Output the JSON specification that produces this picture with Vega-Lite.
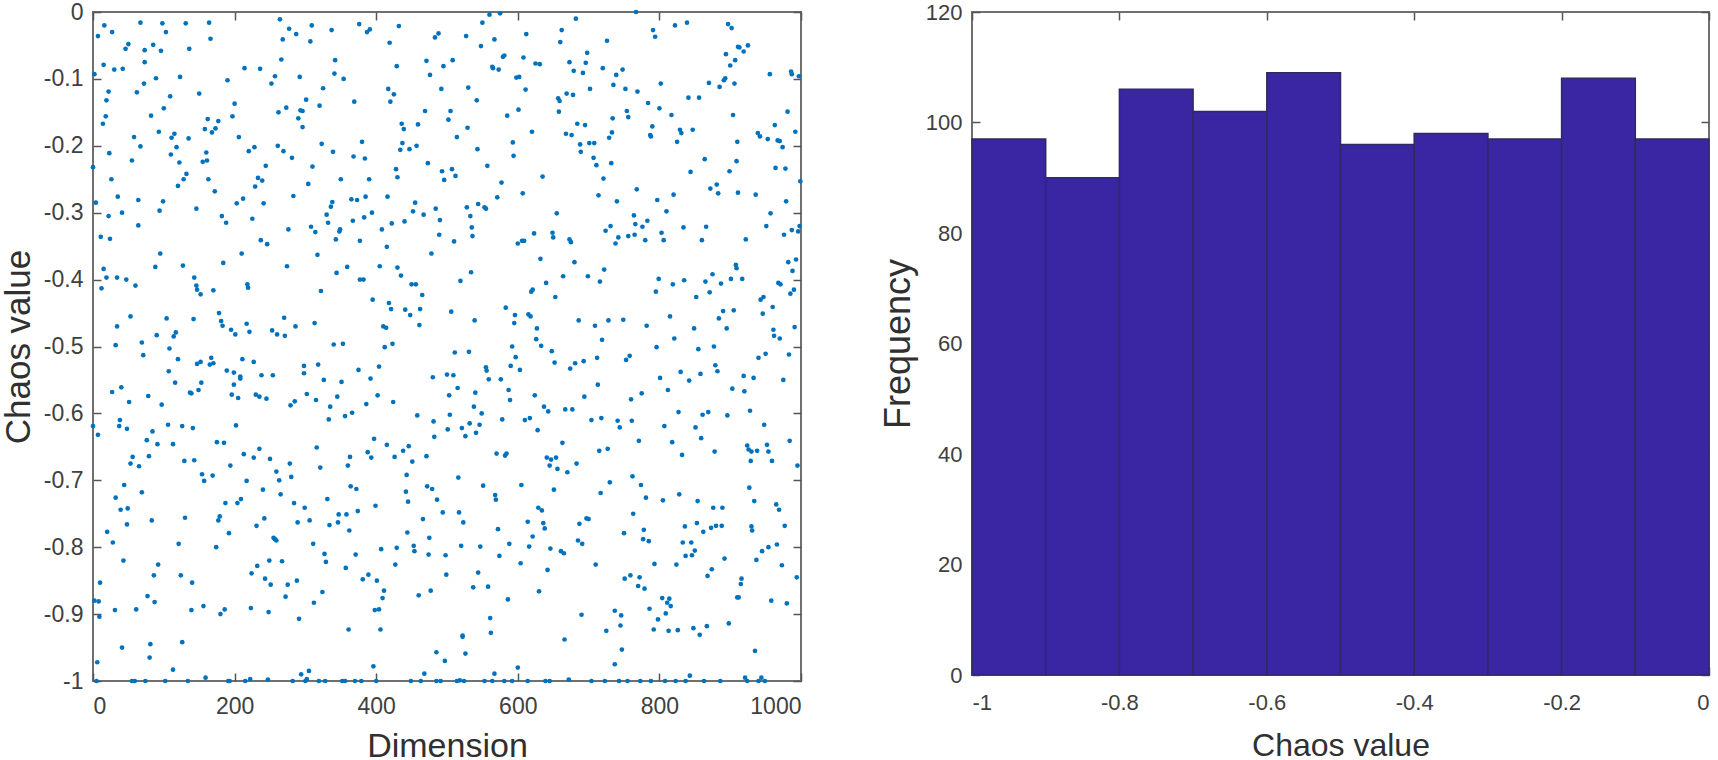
{"$schema":"https://vega.github.io/schema/vega-lite/v6.json","background":"white","padding":{"left":0,"top":0,"right":0,"bottom":0},"bounds":"flush","spacing":171,"config":{"view":{"stroke":"#707070","strokeWidth":2},"axis":{"grid":false,"domain":false,"labelFont":"Liberation Sans","titleFont":"Liberation Sans","labelColor":"#404040","titleColor":"#303030","titleFontWeight":"normal","tickColor":"#555555","tickWidth":1.5,"tickSize":-8,"labelFontWeight":"normal"}},
"datasets":{"pts":[
{"d":16,"v":-0.02},{"d":67,"v":-0.016},{"d":98,"v":-0.017},{"d":131,"v":-0.017},{"d":164,"v":-0.016},{"d":264,"v":-0.011},{"d":7,"v":-0.036},{"d":27,"v":-0.03},{"d":103,"v":-0.03},{"d":166,"v":-0.04},{"d":277,"v":-0.025},{"d":287,"v":-0.033},{"d":309,"v":-0.02},{"d":337,"v":-0.027},{"d":376,"v":-0.018},{"d":387,"v":-0.03},{"d":391,"v":-0.026},{"d":432,"v":-0.021},{"d":268,"v":-0.041},{"d":307,"v":-0.044},{"d":419,"v":-0.046},{"d":50,"v":-0.048},{"d":46,"v":-0.055},{"d":73,"v":-0.057},{"d":85,"v":-0.049},{"d":96,"v":-0.058},{"d":136,"v":-0.055},{"d":73,"v":-0.075},{"d":15,"v":-0.079},{"d":30,"v":-0.086},{"d":42,"v":-0.085},{"d":2,"v":-0.093},{"d":266,"v":-0.071},{"d":342,"v":-0.072},{"d":429,"v":-0.081},{"d":214,"v":-0.084},{"d":236,"v":-0.085},{"d":341,"v":-0.092},{"d":257,"v":-0.096},{"d":292,"v":-0.097},{"d":354,"v":-0.1},{"d":123,"v":-0.097},{"d":89,"v":-0.099},{"d":190,"v":-0.102},{"d":252,"v":-0.107},{"d":72,"v":-0.107},{"d":325,"v":-0.114},{"d":417,"v":-0.115},{"d":425,"v":-0.123},{"d":22,"v":-0.119},{"d":62,"v":-0.12},{"d":150,"v":-0.122},{"d":109,"v":-0.126},{"d":301,"v":-0.131},{"d":369,"v":-0.134},{"d":420,"v":-0.134},{"d":19,"v":-0.132},{"d":200,"v":-0.137},{"d":320,"v":-0.14},{"d":100,"v":-0.144},{"d":273,"v":-0.143},{"d":293,"v":-0.147},{"d":296,"v":-0.148},{"d":262,"v":-0.15},{"d":18,"v":-0.156},{"d":82,"v":-0.155},{"d":197,"v":-0.156},{"d":290,"v":-0.159},{"d":162,"v":-0.16},{"d":177,"v":-0.163},{"d":14,"v":-0.167},{"d":296,"v":-0.172},{"d":158,"v":-0.175},{"d":173,"v":-0.174},{"d":168,"v":-0.18},{"d":93,"v":-0.179},{"d":115,"v":-0.182},{"d":111,"v":-0.188},{"d":58,"v":-0.187},{"d":135,"v":-0.189},{"d":206,"v":-0.187},{"d":380,"v":-0.194},{"d":323,"v":-0.197},{"d":67,"v":-0.201},{"d":118,"v":-0.202},{"d":261,"v":-0.2},{"d":228,"v":-0.202},{"d":220,"v":-0.208},{"d":269,"v":-0.208},{"d":160,"v":-0.21},{"d":339,"v":-0.209},{"d":23,"v":-0.211},{"d":110,"v":-0.213},{"d":281,"v":-0.218},{"d":368,"v":-0.216},{"d":384,"v":-0.219},{"d":55,"v":-0.222},{"d":161,"v":-0.222},{"d":155,"v":-0.224},{"d":122,"v":-0.225},{"d":244,"v":-0.23},{"d":310,"v":-0.231},{"d":0,"v":-0.232},{"d":428,"v":-0.235},{"d":430,"v":-0.247},{"d":132,"v":-0.242},{"d":128,"v":-0.25},{"d":26,"v":-0.25},{"d":163,"v":-0.25},{"d":233,"v":-0.248},{"d":239,"v":-0.252},{"d":350,"v":-0.25},{"d":390,"v":-0.25},{"d":304,"v":-0.257},{"d":120,"v":-0.26},{"d":229,"v":-0.261},{"d":172,"v":-0.268},{"d":35,"v":-0.276},{"d":283,"v":-0.275},{"d":385,"v":-0.276},{"d":416,"v":-0.276},{"d":212,"v":-0.279},{"d":64,"v":-0.281},{"d":365,"v":-0.28},{"d":373,"v":-0.281},{"d":99,"v":-0.283},{"d":338,"v":-0.284},{"d":4,"v":-0.285},{"d":203,"v":-0.286},{"d":241,"v":-0.286},{"d":336,"v":-0.291},{"d":146,"v":-0.294},{"d":94,"v":-0.297},{"d":41,"v":-0.3},{"d":394,"v":-0.3},{"d":330,"v":-0.303},{"d":22,"v":-0.305},{"d":182,"v":-0.305},{"d":383,"v":-0.307},{"d":225,"v":-0.309},{"d":367,"v":-0.312},{"d":188,"v":-0.315},{"d":332,"v":-0.315},{"d":422,"v":-0.316},{"d":64,"v":-0.319},{"d":308,"v":-0.321},{"d":349,"v":-0.325},{"d":276,"v":-0.325},{"d":408,"v":-0.325},{"d":348,"v":-0.328},{"d":314,"v":-0.329},{"d":11,"v":-0.336},{"d":24,"v":-0.339},{"d":343,"v":-0.34},{"d":377,"v":-0.342},{"d":237,"v":-0.341},{"d":246,"v":-0.347},{"d":415,"v":-0.351},{"d":95,"v":-0.361},{"d":210,"v":-0.361},{"d":317,"v":-0.363},{"d":184,"v":-0.375},{"d":274,"v":-0.38},{"d":88,"v":-0.381},{"d":127,"v":-0.379},{"d":359,"v":-0.381},{"d":405,"v":-0.38},{"d":430,"v":-0.382},{"d":15,"v":-0.384},{"d":344,"v":-0.39},{"d":143,"v":-0.397},{"d":19,"v":-0.397},{"d":34,"v":-0.397},{"d":47,"v":-0.4},{"d":377,"v":-0.4},{"d":382,"v":-0.4},{"d":218,"v":-0.407},{"d":60,"v":-0.409},{"d":146,"v":-0.409},{"d":219,"v":-0.412},{"d":12,"v":-0.413},{"d":147,"v":-0.415},{"d":170,"v":-0.416},{"d":322,"v":-0.417},{"d":152,"v":-0.422},{"d":395,"v":-0.43},{"d":418,"v":-0.435},{"d":421,"v":-0.444},{"d":178,"v":-0.45},{"d":53,"v":-0.455},{"d":104,"v":-0.458},{"d":142,"v":-0.459},{"d":270,"v":-0.457},{"d":181,"v":-0.462},
{"d":183,"v":-0.469},{"d":217,"v":-0.466},{"d":313,"v":-0.465},{"d":34,"v":-0.47},{"d":286,"v":-0.47},{"d":410,"v":-0.47},{"d":414,"v":-0.472},{"d":195,"v":-0.475},{"d":221,"v":-0.478},{"d":253,"v":-0.476},{"d":117,"v":-0.479},{"d":90,"v":-0.483},{"d":114,"v":-0.485},{"d":201,"v":-0.482},{"d":260,"v":-0.482},{"d":271,"v":-0.484},{"d":69,"v":-0.494},{"d":340,"v":-0.497},{"d":353,"v":-0.496},{"d":423,"v":-0.496},{"d":32,"v":-0.498},{"d":108,"v":-0.503},{"d":412,"v":-0.501},{"d":71,"v":-0.513},{"d":120,"v":-0.519},{"d":167,"v":-0.517},{"d":211,"v":-0.519},{"d":227,"v":-0.523},{"d":152,"v":-0.523},{"d":147,"v":-0.526},{"d":170,"v":-0.525},{"d":165,"v":-0.527},{"d":318,"v":-0.527},{"d":298,"v":-0.529},{"d":404,"v":-0.53},{"d":189,"v":-0.536},{"d":107,"v":-0.537},{"d":375,"v":-0.535},{"d":199,"v":-0.539},{"d":298,"v":-0.54},{"d":238,"v":-0.543},{"d":254,"v":-0.543},{"d":208,"v":-0.545},{"d":208,"v":-0.548},{"d":392,"v":-0.548},{"d":326,"v":-0.55},{"d":116,"v":-0.554},{"d":153,"v":-0.554},{"d":351,"v":-0.553},{"d":199,"v":-0.557},{"d":40,"v":-0.561},{"d":149,"v":-0.565},{"d":27,"v":-0.568},{"d":137,"v":-0.569},{"d":139,"v":-0.57},{"d":196,"v":-0.572},{"d":230,"v":-0.572},{"d":235,"v":-0.575},{"d":302,"v":-0.571},{"d":402,"v":-0.573},{"d":78,"v":-0.574},{"d":345,"v":-0.575},{"d":205,"v":-0.577},{"d":245,"v":-0.578},{"d":315,"v":-0.58},{"d":285,"v":-0.582},{"d":424,"v":-0.583},{"d":51,"v":-0.583},{"d":386,"v":-0.586},{"d":97,"v":-0.587},{"d":279,"v":-0.588},{"d":335,"v":-0.59},{"d":366,"v":-0.599},{"d":356,"v":-0.604},{"d":333,"v":-0.609},{"d":38,"v":-0.61},{"d":106,"v":-0.617},{"d":0,"v":-0.619},{"d":37,"v":-0.619},{"d":126,"v":-0.619},{"d":202,"v":-0.618},{"d":48,"v":-0.623},{"d":141,"v":-0.622},{"d":84,"v":-0.627},{"d":7,"v":-0.632},{"d":76,"v":-0.64},{"d":397,"v":-0.638},{"d":175,"v":-0.643},{"d":185,"v":-0.644},{"d":91,"v":-0.646},{"d":113,"v":-0.646},{"d":415,"v":-0.647},{"d":316,"v":-0.651},{"d":235,"v":-0.653},{"d":388,"v":-0.658},{"d":213,"v":-0.661},{"d":79,"v":-0.664},{"d":56,"v":-0.665},{"d":227,"v":-0.666},{"d":363,"v":-0.665},{"d":393,"v":-0.666},{"d":426,"v":-0.665},{"d":250,"v":-0.668},{"d":129,"v":-0.671},{"d":143,"v":-0.67},{"d":53,"v":-0.675},{"d":278,"v":-0.675},{"d":65,"v":-0.679},{"d":194,"v":-0.678},{"d":360,"v":-0.678},{"d":321,"v":-0.681},{"d":259,"v":-0.687},{"d":154,"v":-0.691},{"d":169,"v":-0.693},{"d":280,"v":-0.695},{"d":157,"v":-0.701},{"d":217,"v":-0.701},{"d":263,"v":-0.7},{"d":44,"v":-0.707},{"d":364,"v":-0.709},{"d":372,"v":-0.713},{"d":240,"v":-0.714},{"d":69,"v":-0.718},{"d":265,"v":-0.721},{"d":32,"v":-0.726},{"d":331,"v":-0.728},{"d":209,"v":-0.728},{"d":204,"v":-0.734},{"d":187,"v":-0.734},{"d":284,"v":-0.734},{"d":399,"v":-0.738},{"d":49,"v":-0.742},{"d":299,"v":-0.741},{"d":39,"v":-0.744},{"d":374,"v":-0.746},{"d":347,"v":-0.751},{"d":358,"v":-0.751},{"d":179,"v":-0.754},{"d":130,"v":-0.756},{"d":242,"v":-0.757},{"d":83,"v":-0.76},{"d":177,"v":-0.76},{"d":306,"v":-0.76},{"d":289,"v":-0.763},{"d":346,"v":-0.763},{"d":48,"v":-0.766},{"d":231,"v":-0.768},{"d":334,"v":-0.767},{"d":362,"v":-0.775},{"d":20,"v":-0.777},{"d":192,"v":-0.779},{"d":255,"v":-0.786},{"d":257,"v":-0.788},{"d":259,"v":-0.79},{"d":28,"v":-0.793},{"d":121,"v":-0.795},{"d":311,"v":-0.795},{"d":174,"v":-0.8},{"d":429,"v":-0.801},{"d":407,"v":-0.803},{"d":327,"v":-0.81},{"d":371,"v":-0.811},{"d":43,"v":-0.82},{"d":249,"v":-0.82},{"d":267,"v":-0.821},{"d":329,"v":-0.822},{"d":92,"v":-0.826},{"d":427,"v":-0.826},{"d":232,"v":-0.828},{"d":357,"v":-0.831},{"d":224,"v":-0.839},{"d":86,"v":-0.842},{"d":124,"v":-0.842},{"d":389,"v":-0.841},{"d":243,"v":-0.847},{"d":381,"v":-0.848},{"d":288,"v":-0.85},{"d":401,"v":-0.85},{"d":10,"v":-0.853},{"d":140,"v":-0.853},{"d":251,"v":-0.856},{"d":275,"v":-0.856},{"d":411,"v":-0.865},{"d":324,"v":-0.867},{"d":77,"v":-0.873},{"d":272,"v":-0.874},{"d":409,"v":-0.876},{"d":2,"v":-0.88},{"d":8,"v":-0.881},{"d":87,"v":-0.882},{"d":312,"v":-0.883},{"d":156,"v":-0.888},{"d":223,"v":-0.891},{"d":61,"v":-0.893},{"d":186,"v":-0.893},{"d":31,"v":-0.894},{"d":139,"v":-0.894},{"d":398,"v":-0.894},{"d":404,"v":-0.893},{"d":248,"v":-0.897},{"d":180,"v":-0.9},{"d":9,"v":-0.904},{"d":291,"v":-0.907},{"d":361,"v":-0.923},{"d":406,"v":-0.923},
{"d":560,"v":-0.004},{"d":575,"v":-0.002},{"d":767,"v":0},{"d":682,"v":-0.01},{"d":550,"v":-0.016},{"d":822,"v":-0.02},{"d":839,"v":-0.016},{"d":897,"v":-0.018},{"d":902,"v":-0.024},{"d":662,"v":-0.027},{"d":791,"v":-0.027},{"d":612,"v":-0.033},{"d":488,"v":-0.032},{"d":483,"v":-0.038},{"d":527,"v":-0.036},{"d":794,"v":-0.037},{"d":567,"v":-0.041},{"d":660,"v":-0.045},{"d":726,"v":-0.043},{"d":548,"v":-0.051},{"d":911,"v":-0.052},{"d":698,"v":-0.061},{"d":894,"v":-0.063},{"d":581,"v":-0.065},{"d":579,"v":-0.067},{"d":608,"v":-0.068},{"d":471,"v":-0.073},{"d":508,"v":-0.072},{"d":673,"v":-0.075},{"d":696,"v":-0.076},{"d":907,"v":-0.072},{"d":625,"v":-0.077},{"d":631,"v":-0.078},{"d":900,"v":-0.08},{"d":495,"v":-0.081},{"d":564,"v":-0.082},{"d":565,"v":-0.084},{"d":573,"v":-0.086},{"d":720,"v":-0.084},{"d":748,"v":-0.086},{"d":679,"v":-0.088},{"d":692,"v":-0.091},{"d":739,"v":-0.094},{"d":476,"v":-0.094},{"d":598,"v":-0.098},{"d":602,"v":-0.097},{"d":893,"v":-0.099},{"d":891,"v":-0.102},{"d":870,"v":-0.106},{"d":802,"v":-0.107},{"d":906,"v":-0.107},{"d":735,"v":-0.109},{"d":885,"v":-0.112},{"d":492,"v":-0.115},{"d":530,"v":-0.113},{"d":611,"v":-0.116},{"d":702,"v":-0.115},{"d":752,"v":-0.115},{"d":769,"v":-0.119},{"d":669,"v":-0.122},{"d":678,"v":-0.124},{"d":841,"v":-0.128},{"d":856,"v":-0.128},{"d":657,"v":-0.129},{"d":659,"v":-0.133},{"d":542,"v":-0.132},{"d":784,"v":-0.136},{"d":800,"v":-0.144},{"d":601,"v":-0.146},{"d":469,"v":-0.148},{"d":505,"v":-0.148},{"d":658,"v":-0.149},{"d":754,"v":-0.148},{"d":585,"v":-0.155},{"d":756,"v":-0.157},{"d":817,"v":-0.154},{"d":904,"v":-0.154},{"d":734,"v":-0.159},{"d":502,"v":-0.161},{"d":436,"v":-0.167},{"d":459,"v":-0.168},{"d":684,"v":-0.167},{"d":695,"v":-0.169},{"d":439,"v":-0.175},{"d":529,"v":-0.173},{"d":790,"v":-0.171},{"d":829,"v":-0.176},{"d":847,"v":-0.176},{"d":620,"v":-0.179},{"d":733,"v":-0.18},{"d":831,"v":-0.181},{"d":668,"v":-0.182},{"d":676,"v":-0.184},{"d":787,"v":-0.184},{"d":788,"v":-0.186},{"d":514,"v":-0.187},{"d":729,"v":-0.188},{"d":825,"v":-0.194},{"d":593,"v":-0.195},{"d":910,"v":-0.194},{"d":437,"v":-0.196},{"d":688,"v":-0.198},{"d":701,"v":-0.196},{"d":708,"v":-0.196},{"d":457,"v":-0.2},{"d":434,"v":-0.206},{"d":447,"v":-0.205},{"d":543,"v":-0.205},{"d":689,"v":-0.209},{"d":594,"v":-0.215},{"d":707,"v":-0.218},{"d":864,"v":-0.22},{"d":909,"v":-0.223},{"d":473,"v":-0.226},{"d":732,"v":-0.226},{"d":711,"v":-0.229},{"d":557,"v":-0.23},{"d":507,"v":-0.235},{"d":493,"v":-0.238},{"d":844,"v":-0.239},{"d":899,"v":-0.238},{"d":512,"v":-0.245},{"d":635,"v":-0.246},{"d":721,"v":-0.249},{"d":496,"v":-0.251},{"d":577,"v":-0.255},{"d":881,"v":-0.258},{"d":768,"v":-0.265},{"d":872,"v":-0.264},{"d":607,"v":-0.271},{"d":883,"v":-0.271},{"d":820,"v":-0.273},{"d":911,"v":-0.27},{"d":714,"v":-0.274},{"d":571,"v":-0.277},{"d":797,"v":-0.281},{"d":740,"v":-0.283},{"d":455,"v":-0.285},{"d":544,"v":-0.287},{"d":528,"v":-0.292},{"d":553,"v":-0.292},{"d":555,"v":-0.294},{"d":484,"v":-0.294},{"d":452,"v":-0.298},{"d":810,"v":-0.298},{"d":655,"v":-0.301},{"d":467,"v":-0.303},{"d":533,"v":-0.305},{"d":764,"v":-0.304},{"d":490,"v":-0.311},{"d":440,"v":-0.313},{"d":783,"v":-0.312},{"d":766,"v":-0.317},{"d":731,"v":-0.32},{"d":776,"v":-0.321},{"d":535,"v":-0.322},{"d":834,"v":-0.322},{"d":866,"v":-0.321},{"d":724,"v":-0.327},{"d":623,"v":-0.331},{"d":649,"v":-0.33},{"d":803,"v":-0.33},{"d":489,"v":-0.333},{"d":536,"v":-0.335},{"d":650,"v":-0.337},{"d":742,"v":-0.337},{"d":756,"v":-0.335},{"d":765,"v":-0.333},{"d":673,"v":-0.34},{"d":510,"v":-0.343},{"d":606,"v":-0.342},{"d":609,"v":-0.342},{"d":675,"v":-0.344},{"d":600,"v":-0.346},{"d":780,"v":-0.341},{"d":806,"v":-0.341},{"d":860,"v":-0.341},{"d":738,"v":-0.346},{"d":478,"v":-0.361},{"d":632,"v":-0.369},{"d":680,"v":-0.374},{"d":722,"v":-0.385},{"d":534,"v":-0.389},{"d":435,"v":-0.394},{"d":908,"v":-0.378},{"d":909,"v":-0.383},{"d":699,"v":-0.395},{"d":664,"v":-0.395},{"d":901,"v":-0.399},{"d":799,"v":-0.399},{"d":875,"v":-0.392},{"d":716,"v":-0.403},{"d":519,"v":-0.402},{"d":835,"v":-0.401},{"d":865,"v":-0.403},{"d":640,"v":-0.405},{"d":450,"v":-0.407},{"d":456,"v":-0.407},{"d":819,"v":-0.407},{"d":887,"v":-0.406},{"d":621,"v":-0.415},{"d":619,"v":-0.418},{"d":795,"v":-0.418},{"d":871,"v":-0.419},{"d":465,"v":-0.423},{"d":653,"v":-0.426},{"d":852,"v":-0.426},{"d":583,"v":-0.442},{"d":462,"v":-0.444},{"d":441,"v":-0.445},{"d":506,"v":-0.448},{"d":890,"v":-0.447},{"d":905,"v":-0.446},{"d":448,"v":-0.453},{"d":596,"v":-0.453},{"d":615,"v":-0.452},{"d":618,"v":-0.455},{"d":815,"v":-0.455},{"d":884,"v":-0.458},{"d":539,"v":-0.461},{"d":686,"v":-0.461},{"d":728,"v":-0.461},{"d":749,"v":-0.46},
{"d":461,"v":-0.468},{"d":595,"v":-0.465},{"d":627,"v":-0.473},{"d":709,"v":-0.469},{"d":782,"v":-0.469},{"d":849,"v":-0.473},{"d":895,"v":-0.473},{"d":719,"v":-0.49},{"d":626,"v":-0.489},{"d":821,"v":-0.488},{"d":633,"v":-0.499},{"d":592,"v":-0.5},{"d":796,"v":-0.501},{"d":877,"v":-0.5},{"d":855,"v":-0.504},{"d":511,"v":-0.509},{"d":531,"v":-0.508},{"d":648,"v":-0.507},{"d":597,"v":-0.516},{"d":758,"v":-0.514},{"d":753,"v":-0.52},{"d":712,"v":-0.517},{"d":693,"v":-0.522},{"d":681,"v":-0.525},{"d":652,"v":-0.524},{"d":590,"v":-0.529},{"d":879,"v":-0.528},{"d":555,"v":-0.531},{"d":556,"v":-0.536},{"d":603,"v":-0.535},{"d":674,"v":-0.533},{"d":882,"v":-0.537},{"d":830,"v":-0.538},{"d":858,"v":-0.541},{"d":500,"v":-0.542},{"d":509,"v":-0.543},{"d":480,"v":-0.546},{"d":801,"v":-0.547},{"d":559,"v":-0.549},{"d":576,"v":-0.549},{"d":842,"v":-0.551},{"d":713,"v":-0.557},{"d":903,"v":-0.563},{"d":515,"v":-0.562},{"d":812,"v":-0.565},{"d":587,"v":-0.565},{"d":540,"v":-0.569},{"d":775,"v":-0.57},{"d":503,"v":-0.573},{"d":624,"v":-0.573},{"d":694,"v":-0.575},{"d":760,"v":-0.579},{"d":589,"v":-0.58},{"d":538,"v":-0.59},{"d":637,"v":-0.59},{"d":667,"v":-0.594},{"d":677,"v":-0.594},{"d":643,"v":-0.597},{"d":827,"v":-0.598},{"d":549,"v":-0.6},{"d":869,"v":-0.598},{"d":861,"v":-0.602},{"d":458,"v":-0.603},{"d":504,"v":-0.602},{"d":896,"v":-0.603},{"d":617,"v":-0.607},{"d":610,"v":-0.61},{"d":578,"v":-0.609},{"d":704,"v":-0.61},{"d":718,"v":-0.607},{"d":741,"v":-0.611},{"d":761,"v":-0.611},{"d":481,"v":-0.612},{"d":532,"v":-0.615},{"d":546,"v":-0.617},{"d":807,"v":-0.619},{"d":521,"v":-0.622},{"d":501,"v":-0.624},{"d":744,"v":-0.621},{"d":851,"v":-0.621},{"d":628,"v":-0.625},{"d":541,"v":-0.629},{"d":482,"v":-0.635},{"d":526,"v":-0.634},{"d":859,"v":-0.637},{"d":771,"v":-0.641},{"d":663,"v":-0.644},{"d":818,"v":-0.643},{"d":446,"v":-0.649},{"d":727,"v":-0.653},{"d":715,"v":-0.656},{"d":878,"v":-0.657},{"d":438,"v":-0.656},{"d":570,"v":-0.66},{"d":584,"v":-0.66},{"d":582,"v":-0.663},{"d":832,"v":-0.662},{"d":471,"v":-0.664},{"d":641,"v":-0.666},{"d":654,"v":-0.666},{"d":647,"v":-0.669},{"d":451,"v":-0.672},{"d":683,"v":-0.675},{"d":645,"v":-0.678},{"d":656,"v":-0.683},{"d":670,"v":-0.688},{"d":443,"v":-0.692},{"d":516,"v":-0.696},{"d":762,"v":-0.694},{"d":730,"v":-0.703},{"d":774,"v":-0.707},{"d":472,"v":-0.709},{"d":479,"v":-0.713},{"d":551,"v":-0.708},{"d":605,"v":-0.707},{"d":442,"v":-0.717},{"d":651,"v":-0.714},{"d":717,"v":-0.719},{"d":828,"v":-0.721},{"d":568,"v":-0.722},{"d":569,"v":-0.729},{"d":781,"v":-0.726},{"d":805,"v":-0.73},{"d":854,"v":-0.731},{"d":486,"v":-0.729},{"d":445,"v":-0.732},{"d":876,"v":-0.741},{"d":889,"v":-0.741},{"d":629,"v":-0.741},{"d":634,"v":-0.745},{"d":494,"v":-0.748},{"d":517,"v":-0.748},{"d":763,"v":-0.75},{"d":466,"v":-0.758},{"d":697,"v":-0.757},{"d":700,"v":-0.758},{"d":614,"v":-0.762},{"d":523,"v":-0.763},{"d":636,"v":-0.764},{"d":687,"v":-0.765},{"d":853,"v":-0.764},{"d":836,"v":-0.769},{"d":873,"v":-0.771},{"d":880,"v":-0.768},{"d":888,"v":-0.768},{"d":572,"v":-0.773},{"d":638,"v":-0.772},{"d":778,"v":-0.774},{"d":862,"v":-0.777},{"d":444,"v":-0.778},{"d":750,"v":-0.779},{"d":475,"v":-0.786},{"d":621,"v":-0.784},{"d":777,"v":-0.788},{"d":785,"v":-0.791},{"d":685,"v":-0.79},{"d":833,"v":-0.793},{"d":845,"v":-0.793},{"d":691,"v":-0.795},{"d":588,"v":-0.795},{"d":453,"v":-0.798},{"d":520,"v":-0.798},{"d":547,"v":-0.799},{"d":616,"v":-0.799},{"d":646,"v":-0.802},{"d":850,"v":-0.805},{"d":454,"v":-0.806},{"d":661,"v":-0.806},{"d":665,"v":-0.809},{"d":474,"v":-0.811},{"d":498,"v":-0.812},{"d":574,"v":-0.813},{"d":837,"v":-0.813},{"d":846,"v":-0.812},{"d":892,"v":-0.817},{"d":604,"v":-0.824},{"d":793,"v":-0.825},{"d":710,"v":-0.826},{"d":824,"v":-0.826},{"d":544,"v":-0.838},{"d":642,"v":-0.834},{"d":874,"v":-0.833},{"d":499,"v":-0.841},{"d":759,"v":-0.842},{"d":772,"v":-0.845},{"d":751,"v":-0.847},{"d":868,"v":-0.843},{"d":558,"v":-0.859},{"d":537,"v":-0.86},{"d":770,"v":-0.858},{"d":779,"v":-0.862},{"d":477,"v":-0.865},{"d":630,"v":-0.866},{"d":460,"v":-0.872},{"d":586,"v":-0.878},{"d":804,"v":-0.876},{"d":814,"v":-0.877},{"d":910,"v":-0.875},{"d":811,"v":-0.883},{"d":816,"v":-0.888},{"d":786,"v":-0.892},{"d":737,"v":-0.895},{"d":690,"v":-0.901},{"d":746,"v":-0.902},{"d":809,"v":-0.899},{"d":561,"v":-0.906},{"d":798,"v":-0.908},{"d":898,"v":-0.914},{"d":745,"v":-0.917},{"d":867,"v":-0.918},{"d":848,"v":-0.921},{"d":725,"v":-0.925},{"d":792,"v":-0.923},{"d":813,"v":-0.925},{"d":826,"v":-0.924},{"d":562,"v":-0.928},{"d":857,"v":-0.931},{"d":522,"v":-0.932},
{"d":5,"v":-1},{"d":55,"v":-1},{"d":59,"v":-1},{"d":74,"v":-1},{"d":102,"v":-1},{"d":134,"v":-1},{"d":191,"v":-1},{"d":193,"v":-1},{"d":215,"v":-1},{"d":282,"v":-1},{"d":300,"v":-1},{"d":319,"v":-1},{"d":328,"v":-1},{"d":352,"v":-1},{"d":356,"v":-1},{"d":370,"v":-1},{"d":379,"v":-1},{"d":400,"v":-1},{"d":449,"v":-1},{"d":463,"v":-1},{"d":485,"v":-1},{"d":491,"v":-1},{"d":6,"v":-0.972},{"d":41,"v":-0.95},{"d":81,"v":-0.945},{"d":80,"v":-0.965},{"d":126,"v":-0.942},{"d":113,"v":-0.983},{"d":159,"v":-0.995},{"d":222,"v":-0.997},{"d":247,"v":-0.998},{"d":294,"v":-0.99},{"d":305,"v":-0.985},{"d":302,"v":-0.997},{"d":396,"v":-0.978},{"d":485,"v":-0.957},{"d":468,"v":-0.989},{"d":514,"v":-1},{"d":524,"v":-1},{"d":553,"v":-1},{"d":564,"v":-1},{"d":581,"v":-1},{"d":592,"v":-1},{"d":614,"v":-1},{"d":639,"v":-1},{"d":645,"v":-1},{"d":704,"v":-1},{"d":723,"v":-1},{"d":743,"v":-1},{"d":755,"v":-1},{"d":773,"v":-1},{"d":788,"v":-1},{"d":808,"v":-1},{"d":823,"v":-1},{"d":837,"v":-1},{"d":863,"v":-1},{"d":886,"v":-1},{"d":924,"v":-1},{"d":940,"v":-1},{"d":949,"v":-1},{"d":497,"v":-0.97},{"d":518,"v":-0.999},{"d":522,"v":-0.934},{"d":526,"v":-0.959},{"d":567,"v":-0.989},{"d":600,"v":-0.98},{"d":666,"v":-0.938},{"d":672,"v":-0.998},{"d":747,"v":-0.953},{"d":737,"v":-0.975},{"d":935,"v":-0.955},{"d":843,"v":-0.992},{"d":921,"v":-0.995},{"d":944,"v":-0.995},
{"d":913,"v":-0.053},{"d":919,"v":-0.059},{"d":925,"v":-0.05},{"d":956,"v":-0.093},{"d":986,"v":-0.089},{"d":987,"v":-0.093},{"d":997,"v":-0.096},{"d":981,"v":-0.149},{"d":963,"v":-0.169},{"d":939,"v":-0.181},{"d":942,"v":-0.186},{"d":992,"v":-0.179},{"d":953,"v":-0.19},{"d":967,"v":-0.192},{"d":970,"v":-0.193},{"d":974,"v":-0.202},{"d":964,"v":-0.233},{"d":978,"v":-0.234},{"d":999,"v":-0.253},{"d":936,"v":-0.273},{"d":979,"v":-0.283},{"d":957,"v":-0.301},{"d":951,"v":-0.32},{"d":976,"v":-0.333},{"d":987,"v":-0.326},{"d":996,"v":-0.328},{"d":998,"v":-0.32},{"d":922,"v":-0.34},{"d":917,"v":-0.399},{"d":982,"v":-0.374},{"d":993,"v":-0.37},{"d":988,"v":-0.387},{"d":968,"v":-0.405},{"d":971,"v":-0.407},{"d":990,"v":-0.415},{"d":985,"v":-0.421},{"d":947,"v":-0.426},{"d":943,"v":-0.43},{"d":960,"v":-0.441},{"d":946,"v":-0.451},{"d":991,"v":-0.471},{"d":961,"v":-0.475},{"d":962,"v":-0.484},{"d":970,"v":-0.488},{"d":950,"v":-0.511},{"d":983,"v":-0.512},{"d":940,"v":-0.517},{"d":919,"v":-0.544},{"d":933,"v":-0.547},{"d":975,"v":-0.55},{"d":920,"v":-0.567},{"d":928,"v":-0.596},{"d":948,"v":-0.617},{"d":984,"v":-0.641},{"d":924,"v":-0.648},{"d":952,"v":-0.647},{"d":926,"v":-0.654},{"d":930,"v":-0.657},{"d":938,"v":-0.656},{"d":954,"v":-0.657},{"d":929,"v":-0.671},{"d":959,"v":-0.671},{"d":995,"v":-0.678},{"d":927,"v":-0.711},{"d":934,"v":-0.731},{"d":965,"v":-0.736},{"d":969,"v":-0.744},{"d":977,"v":-0.768},{"d":930,"v":-0.769},{"d":931,"v":-0.775},{"d":966,"v":-0.796},{"d":954,"v":-0.8},{"d":945,"v":-0.806},{"d":937,"v":-0.819},{"d":973,"v":-0.827},{"d":994,"v":-0.845},{"d":916,"v":-0.847},{"d":915,"v":-0.855},{"d":912,"v":-0.875},{"d":958,"v":-0.88},{"d":980,"v":-0.884}
],"bins":[{"a":-1,"b":-0.9,"n":97},{"a":-0.9,"b":-0.8,"n":90},{"a":-0.8,"b":-0.7,"n":106},{"a":-0.7,"b":-0.6,"n":102},{"a":-0.6,"b":-0.5,"n":109},{"a":-0.5,"b":-0.4,"n":96},{"a":-0.4,"b":-0.3,"n":98},{"a":-0.3,"b":-0.2,"n":97},{"a":-0.2,"b":-0.1,"n":108},{"a":-0.1,"b":0,"n":97}]},
"hconcat":[
{"width":708,"height":669,"resolve":{"axis":{"x":"independent","y":"independent"}},"layer":[
{"data":{"name":"pts"},"mark":{"type":"circle","size":22,"color":"#0072bd","opacity":1},"encoding":{
"x":{"field":"d","type":"quantitative","scale":{"domain":[0,1000],"nice":false},"axis":{"orient":"bottom","values":[0,200,400,600,800,1000],"labelExpr":"''+datum.value","labelFontSize":23,"labelPadding":22,"title":"Dimension","titleFontSize":34,"titlePadding":11}},
"y":{"field":"v","type":"quantitative","scale":{"domain":[-1,0],"nice":false},"axis":{"orient":"left","values":[0,-0.1,-0.2,-0.3,-0.4,-0.5,-0.6,-0.7,-0.8,-0.9,-1],"labelExpr":"''+datum.value","labelFontSize":23,"labelPadding":18,"title":"Chaos value","titleFontSize":35,"titlePadding":7}}}},
{"data":{"values":[{"d":0,"v":0}]},"mark":{"type":"point","opacity":0},"encoding":{
"x":{"field":"d","type":"quantitative","scale":{"domain":[0,1000],"nice":false},"axis":{"orient":"top","values":[0,200,400,600,800,1000],"labels":false,"title":null}},
"y":{"field":"v","type":"quantitative","scale":{"domain":[-1,0],"nice":false},"axis":{"orient":"right","values":[0,-0.1,-0.2,-0.3,-0.4,-0.5,-0.6,-0.7,-0.8,-0.9,-1],"labels":false,"title":null}}}}
]},
{"width":737,"height":663,"resolve":{"axis":{"x":"independent","y":"independent"}},"layer":[
{"data":{"name":"bins"},"mark":{"type":"bar","color":"#3a26a2","stroke":"#2f2b60","strokeWidth":1.5},"encoding":{
"x":{"field":"a","type":"quantitative","scale":{"domain":[-1,0],"nice":false},"axis":{"orient":"bottom","values":[-1,-0.8,-0.6,-0.4,-0.2,0],"labelExpr":"''+datum.value","labelFontSize":22,"labelPadding":25,"title":"Chaos value","titleFontSize":32,"titlePadding":17}},
"x2":{"field":"b"},
"y":{"field":"n","type":"quantitative","scale":{"domain":[0,120],"nice":false},"axis":{"orient":"left","values":[0,20,40,60,80,100,120],"labelFontSize":22,"labelPadding":18,"title":"Frequency","titleFontSize":36,"titlePadding":8}},
"y2":{"datum":0}}},
{"data":{"values":[{"a":0,"n":0}]},"mark":{"type":"point","opacity":0},"encoding":{
"x":{"field":"a","type":"quantitative","scale":{"domain":[-1,0],"nice":false},"axis":{"orient":"top","values":[-1,-0.8,-0.6,-0.4,-0.2,0],"labels":false,"title":null}},
"y":{"field":"n","type":"quantitative","scale":{"domain":[0,120],"nice":false},"axis":{"orient":"right","values":[0,20,40,60,80,100,120],"labels":false,"title":null}}}}
]}
]}
